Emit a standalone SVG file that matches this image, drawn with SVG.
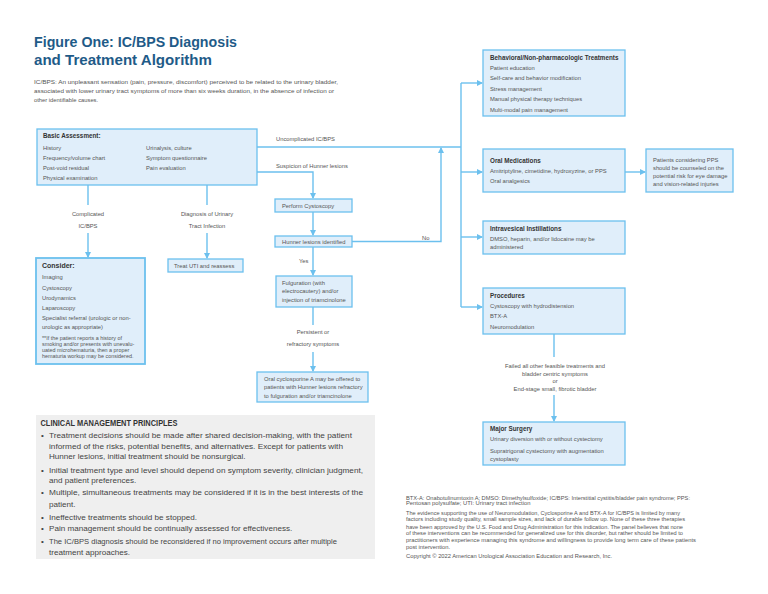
<svg xmlns="http://www.w3.org/2000/svg" width="768" height="594" viewBox="0 0 768 594">
<defs>
<marker id="ah" markerWidth="6" markerHeight="6" refX="5" refY="3" orient="auto" markerUnits="userSpaceOnUse">
<path d="M0,0 L6,3 L0,6 Z" fill="#6cc0ee"/>
</marker>
<style>
.box{fill:#e0eefa;stroke:#6cc0ee;stroke-width:1.3}
.ln{fill:none;stroke:#6cc0ee;stroke-width:1.4}
.t{font-family:"Liberation Sans Narrow","Liberation Sans",Arial,sans-serif;font-size:5.8px;fill:#555}
.b{font-family:"Liberation Sans Narrow","Liberation Sans",Arial,sans-serif;font-size:6.3px;font-weight:bold;fill:#333}
.c{text-anchor:middle}
.cm{font-family:"Liberation Sans","Open Sans",Arial,sans-serif;font-size:8.1px;fill:#444}
.fn{font-family:"Liberation Sans Narrow","Liberation Sans",Arial,sans-serif;font-size:5.8px;fill:#555}
.nt{font-size:5.4px}
</style>
</defs>
<rect width="768" height="594" fill="#ffffff"/>

<g id="title">
<text x="34" y="46.5" font-family="Liberation Sans, Arial, sans-serif" font-weight="bold" font-size="15.5" fill="#1f5b88" textLength="203" lengthAdjust="spacingAndGlyphs">Figure One: IC/BPS Diagnosis</text>
<text x="34" y="64.5" font-family="Liberation Sans, Arial, sans-serif" font-weight="bold" font-size="15.5" fill="#1f5b88" textLength="178" lengthAdjust="spacingAndGlyphs">and Treatment Algorithm</text>
<text class="t" x="34" y="84" textLength="304" lengthAdjust="spacingAndGlyphs">IC/BPS: An unpleasant sensation (pain, pressure, discomfort) perceived to be related to the urinary bladder,</text>
<text class="t" x="34" y="93" textLength="300" lengthAdjust="spacingAndGlyphs">associated with lower urinary tract symptoms of more than six weeks duration, in the absence of infection or</text>
<text class="t" x="34" y="102">other identifiable causes.</text>
</g>

<g id="connectors">
<path class="ln" d="M257,147 H461"/>
<path class="ln" d="M461,83 V307"/>
<path class="ln" d="M461,83 H482" marker-end="url(#ah)"/>
<path class="ln" d="M461,172 H482" marker-end="url(#ah)"/>
<path class="ln" d="M461,237 H482" marker-end="url(#ah)"/>
<path class="ln" d="M461,307 H482" marker-end="url(#ah)"/>
<path class="ln" d="M257,172 H313 V198" marker-end="url(#ah)"/>
<path class="ln" d="M313,212 V235" marker-end="url(#ah)"/>
<path class="ln" d="M352,241.5 H441 V148" marker-end="url(#ah)"/>
<path class="ln" d="M313,247 V275" marker-end="url(#ah)"/>
<path class="ln" d="M313,307 V325"/>
<path class="ln" d="M313,352 V371" marker-end="url(#ah)"/>
<path class="ln" d="M88,185 V205"/>
<path class="ln" d="M88,233 V257" marker-end="url(#ah)"/>
<path class="ln" d="M207,185 V205"/>
<path class="ln" d="M207,233 V258" marker-end="url(#ah)"/>
<path class="ln" d="M625,172 H645" marker-end="url(#ah)"/>
<path class="ln" d="M554,334 V357"/>
<path class="ln" d="M554,395 V421" marker-end="url(#ah)"/>
</g>

<g id="labels">
<text class="t" x="276" y="141">Uncomplicated IC/BPS</text>
<text class="t" x="276" y="168">Suspicion of Hunner lesions</text>
<text class="t" x="422" y="240">No</text>
<text class="t" x="299" y="263">Yes</text>
<text class="t c" x="313" y="334">Persistent or</text>
<text class="t c" x="313" y="346">refractory symptoms</text>
<text class="t c" x="88" y="216">Complicated</text>
<text class="t c" x="88" y="228">IC/BPS</text>
<text class="t c" x="207" y="216">Diagnosis of Urinary</text>
<text class="t c" x="207" y="228">Tract Infection</text>
<text class="t c" x="555" y="368">Failed all other feasible treatments and</text>
<text class="t c" x="555" y="375.5">bladder centric symptoms</text>
<text class="t c" x="555" y="383">or</text>
<text class="t c" x="555" y="390.5">End-stage small, fibrotic bladder</text>
</g>

<g id="behavioral">
<rect class="box" x="483" y="50" width="142" height="66"/>
<text class="b" x="490" y="59.5">Behavioral/Non-pharmacologic Treatments</text>
<text class="t" x="490" y="69.5">Patient education</text>
<text class="t" x="490" y="80">Self-care and behavior modification</text>
<text class="t" x="490" y="90.5">Stress management</text>
<text class="t" x="490" y="101">Manual physical therapy techniques</text>
<text class="t" x="490" y="111.5">Multi-modal pain management</text>
</g>

<g id="basic">
<rect class="box" x="37" y="129" width="220" height="56"/>
<text class="b" x="43" y="138">Basic Assessment:</text>
<text class="t" x="43" y="149.5">History</text>
<text class="t" x="43" y="159.5">Frequency/volume chart</text>
<text class="t" x="43" y="170">Post-void residual</text>
<text class="t" x="43" y="180">Physical examination</text>
<text class="t" x="146" y="149.5">Urinalysis, culture</text>
<text class="t" x="146" y="159.5">Symptom questionnaire</text>
<text class="t" x="146" y="170">Pain evaluation</text>
</g>

<g id="cystoscopy">
<rect class="box" x="275" y="199" width="77" height="13"/>
<text class="t" x="282" y="207.8">Perform Cystoscopy</text>
</g>

<g id="hunner">
<rect class="box" x="275" y="236" width="77" height="11"/>
<text class="t" x="282" y="243.8">Hunner lesions identified</text>
</g>

<g id="consider">
<rect class="box" x="36" y="258" width="109" height="106" style="stroke-width:1.8"/>
<text class="b" x="42" y="268" style="font-size:7px">Consider:</text>
<text class="t" x="42" y="278.5">Imaging</text>
<text class="t" x="42" y="289.5">Cystoscopy</text>
<text class="t" x="42" y="299.5">Urodynamics</text>
<text class="t" x="42" y="310">Laparoscopy</text>
<text class="t" x="42" y="320">Specialist referral (urologic or non-</text>
<text class="t" x="42" y="328.5">urologic as appropriate)</text>
<text class="t nt" x="42" y="339.5">**If the patient reports a history of</text>
<text class="t nt" x="42" y="345.5">smoking and/or presents with unevalu-</text>
<text class="t nt" x="42" y="351.5">uated microhematuria, then a proper</text>
<text class="t nt" x="42" y="357.5">hematuria workup may be considered.</text>
</g>

<g id="uti">
<rect class="box" x="168" y="259" width="75" height="13"/>
<text class="t" x="174" y="267.8">Treat UTI and reassess</text>
</g>

<g id="fulguration">
<rect class="box" x="276" y="276" width="76" height="31"/>
<text class="t" x="282" y="285">Fulguration (with</text>
<text class="t" x="282" y="293">electrocautery) and/or</text>
<text class="t" x="282" y="301.5">injection of triamcinolone</text>
</g>

<g id="cyclosporine">
<rect class="box" x="257" y="372" width="111" height="30"/>
<text class="t" x="264" y="380.5">Oral cyclosporine A may be offered to</text>
<text class="t" x="264" y="389">patients with Hunner lesions refractory</text>
<text class="t" x="264" y="397.5">to fulguration and/or triamcinolone</text>
</g>

<g id="oralmeds">
<rect class="box" x="483" y="149" width="142" height="43"/>
<text class="b" x="490" y="163">Oral Medications</text>
<text class="t" x="490" y="173">Amitriptyline, cimetidine, hydroxyzine, or PPS</text>
<text class="t" x="490" y="183">Oral analgesics</text>
</g>

<g id="pps">
<rect class="box" x="646" y="149" width="87" height="43"/>
<text class="t" x="653" y="161.5">Patients considering PPS</text>
<text class="t" x="653" y="169.5">should be counseled on the</text>
<text class="t" x="653" y="177.5">potential risk for eye damage</text>
<text class="t" x="653" y="185.5">and vision-related injuries</text>
</g>

<g id="intravesical">
<rect class="box" x="483" y="221" width="142" height="33"/>
<text class="b" x="490" y="230.5">Intravesical Instillations</text>
<text class="t" x="490" y="241">DMSO, heparin, and/or lidocaine may be</text>
<text class="t" x="490" y="249">administered</text>
</g>

<g id="procedures">
<rect class="box" x="483" y="288" width="142" height="46"/>
<text class="b" x="490" y="298">Procedures</text>
<text class="t" x="490" y="308">Cystoscopy with hydrodistension</text>
<text class="t" x="490" y="318">BTX-A</text>
<text class="t" x="490" y="328.5">Neuromodulation</text>
</g>

<g id="surgery">
<rect class="box" x="483" y="422" width="142" height="43"/>
<text class="b" x="490" y="430.5">Major Surgery</text>
<text class="t" x="490" y="441">Urinary diversion with or without cystectomy</text>
<text class="t" x="490" y="452.5">Supratrigonal cystectomy with augmentation</text>
<text class="t" x="490" y="460.5">cystoplasty</text>
</g>

<g id="principles">
<rect x="36" y="415" width="339" height="144" fill="#efefef"/>
<text x="40.5" y="425.5" font-family="Liberation Sans, Arial, sans-serif" font-weight="bold" font-size="8.6" fill="#333" textLength="137" lengthAdjust="spacingAndGlyphs">CLINICAL MANAGEMENT PRINCIPLES</text>
<g class="cm">
<text x="41" y="437.5">•</text>
<text x="49" y="437.5" textLength="303" lengthAdjust="spacingAndGlyphs">Treatment decisions should be made after shared decision-making, with the patient</text>
<text x="49" y="448.5" textLength="294" lengthAdjust="spacingAndGlyphs">informed of the risks, potential benefits, and alternatives. Except for patients with</text>
<text x="49" y="459">Hunner lesions, initial treatment should be nonsurgical.</text>
<text x="41" y="473">•</text>
<text x="49" y="473" textLength="314" lengthAdjust="spacingAndGlyphs">Initial treatment type and level should depend on symptom severity, clinician judgment,</text>
<text x="49" y="483">and patient preferences.</text>
<text x="41" y="495">•</text>
<text x="49" y="495" textLength="314" lengthAdjust="spacingAndGlyphs">Multiple, simultaneous treatments may be considered if it is in the best interests of the</text>
<text x="49" y="506.5">patient.</text>
<text x="41" y="520">•</text>
<text x="49" y="520">Ineffective treatments should be stopped.</text>
<text x="41" y="531">•</text>
<text x="49" y="531">Pain management should be continually assessed for effectiveness.</text>
<text x="41" y="544">•</text>
<text x="49" y="544" textLength="288" lengthAdjust="spacingAndGlyphs">The IC/BPS diagnosis should be reconsidered if no improvement occurs after multiple</text>
<text x="49" y="554.5">treatment approaches.</text>
</g>
</g>

<g id="footnotes" class="fn">
<text x="406" y="499.5" textLength="284" lengthAdjust="spacingAndGlyphs">BTX-A: Onabotulinumtoxin A; DMSO: Dimethylsulfoxide; IC/BPS: Interstitial cystitis/bladder pain syndrome; PPS:</text>
<text x="406" y="505">Pentosan polysulfate; UTI: Urinary tract infection</text>
<text x="406" y="514.5" textLength="274" lengthAdjust="spacingAndGlyphs">The evidence supporting the use of Neuromodulation, Cyclosporine A and BTX-A for IC/BPS is limited by many</text>
<text x="406" y="521" textLength="279" lengthAdjust="spacingAndGlyphs">factors including study quality, small sample sizes, and lack of durable follow up. None of these three therapies</text>
<text x="406" y="528.5" textLength="277" lengthAdjust="spacingAndGlyphs">have been approved by the U.S. Food and Drug Administration for this indication. The panel believes that none</text>
<text x="406" y="534.5" textLength="277" lengthAdjust="spacingAndGlyphs">of these interventions can be recommended for generalized use for this disorder, but rather should be limited to</text>
<text x="406" y="541.5" textLength="290" lengthAdjust="spacingAndGlyphs">practitioners with experience managing this syndrome and willingness to provide long term care of these patients</text>
<text x="406" y="548.5">post intervention.</text>
<text x="406" y="557.5" textLength="206" lengthAdjust="spacingAndGlyphs">Copyright © 2022 American Urological Association Education and Research, Inc.</text>
</g>
</svg>
